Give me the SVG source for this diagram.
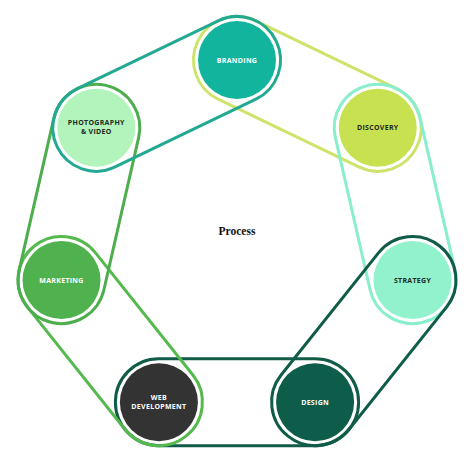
<svg xmlns="http://www.w3.org/2000/svg" width="474" height="464" viewBox="0 0 474 464">
<style>
.cap{fill:none;stroke-width:3}
.lbl{font-family:"Open Sans","Liberation Sans",sans-serif;font-weight:700;font-size:7px;letter-spacing:0.3px;text-anchor:middle}
.w{fill:#ffffff}
.d{fill:#1e2a22}
</style>
<rect width="474" height="464" fill="#ffffff"/>
<g id="connectors">
<rect class="cap" stroke="#cde36c" x="-121.6" y="-43.5" width="243.2" height="87" rx="43.5" transform="translate(307.37,93.89) rotate(25.71)"/>
<rect class="cap" stroke="#88eecb" x="-121.6" y="-43.5" width="243.2" height="87" rx="43.5" transform="translate(395.11,203.91) rotate(77.14)"/>
<rect class="cap" stroke="#115c49" x="-121.6" y="-43.5" width="243.2" height="87" rx="43.5" transform="translate(363.80,341.11) rotate(128.57)"/>
<rect class="cap" stroke="#115c49" x="-121.6" y="-43.5" width="243.2" height="87" rx="43.5" transform="translate(237,402.17)"/>
<rect class="cap" stroke="#56b94e" x="-121.6" y="-43.5" width="243.2" height="87" rx="43.5" transform="translate(110.21,341.11) rotate(51.43)"/>
<rect class="cap" stroke="#4cae4c" x="-121.6" y="-43.5" width="243.2" height="87" rx="43.5" transform="translate(78.89,203.91) rotate(102.86)"/>
<rect class="cap" stroke="#22a992" x="-121.6" y="-43.5" width="243.2" height="87" rx="43.5" transform="translate(166.64,93.89) rotate(-25.71)"/>
</g>
<g id="branding">
<circle cx="237" cy="60" r="39" fill="#13b49e"/>
<text class="lbl w" x="237" y="62.5">BRANDING</text>
</g>
<g id="discovery">
<circle cx="377.73" cy="127.77" r="39" fill="#c7e150"/>
<text class="lbl d" x="377.73" y="130.3">DISCOVERY</text>
</g>
<g id="strategy">
<circle cx="412.49" cy="280.05" r="39" fill="#92f2cd"/>
<text class="lbl d" x="412.49" y="282.5">STRATEGY</text>
</g>
<g id="design">
<circle cx="315.1" cy="402.17" r="39" fill="#0e5c4a"/>
<text class="lbl w" x="315.1" y="404.7">DESIGN</text>
</g>
<g id="webdev">
<circle cx="158.9" cy="402.17" r="39" fill="#333333"/>
<text class="lbl w" x="158.9" y="400">WEB</text>
<text class="lbl w" x="158.9" y="408.5">DEVELOPMENT</text>
</g>
<g id="marketing">
<circle cx="61.51" cy="280.05" r="39" fill="#4fb24f"/>
<text class="lbl w" x="61.51" y="282.5">MARKETING</text>
</g>
<g id="photo">
<circle cx="96.27" cy="127.77" r="39" fill="#b2f4bb"/>
<text class="lbl d" x="96.27" y="125">PHOTOGRAPHY</text>
<text class="lbl d" x="96.27" y="133.5">&amp; VIDEO</text>
</g>
<g id="process">
<text x="237" y="235" font-family="'Liberation Serif',serif" font-weight="700" font-size="11.5" text-anchor="middle" fill="#111111">Process</text>
</g>
</svg>
